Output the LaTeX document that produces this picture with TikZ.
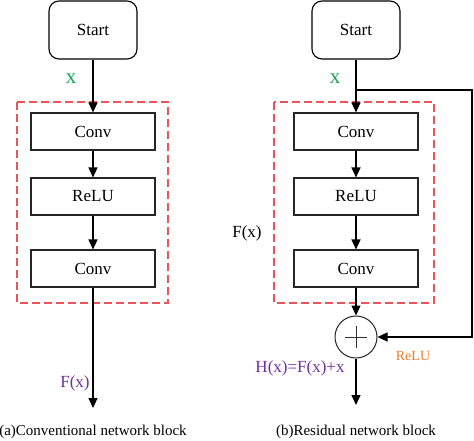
\documentclass[tikz,border=0pt]{standalone}
\usepackage{fontspec}
\setmainfont{Liberation Serif}
\usepackage{tikz}
\usetikzlibrary{arrows.meta, positioning, shapes.geometric}
\definecolor{xgreen}{RGB}{20,165,80}
\definecolor{fpurple}{RGB}{112,48,160}
\definecolor{rorange}{RGB}{237,125,49}
\definecolor{dred}{RGB}{236,84,92}

\begin{document}
\begin{tikzpicture}[
  x=1pt, y=1pt, >={Triangle[length=10pt,width=9pt]},
  font=\fontsize{17}{20}\selectfont,
  st/.style={rectangle, rounded corners=10pt, draw=black, line width=1.1pt,
             minimum width=88pt, minimum height=58pt, inner sep=0pt},
  layer/.style={rectangle, draw=black!85, line width=1.1pt,
                minimum width=124pt, minimum height=37pt, inner sep=0pt},
  sumnode/.style={circle, draw=black!85, line width=1pt, minimum size=42pt,
                  inner sep=0pt},
  plusbar/.style={draw=black!80, line width=0.8pt},
  blk/.style={draw=dred, line width=1.2pt, dash pattern=on 8pt off 4pt},
  ar/.style={->, draw=black, line width=1.2pt},
  caption/.style={font=\fontsize{15}{18}\selectfont}]
  \useasboundingbox (0,0) rectangle (474,440);
  % (a) conventional block
  \node[st] (start1) at (93, 410) {Start};
  \node[layer] (conv1a) at (93, 308.5) {Conv};
  \node[layer] (relu1)  at (93, 243.5) {ReLU};
  \node[layer] (conv1b) at (93, 171.5) {Conv};
  \draw[blk] (17,338) rectangle (168,137);
  \coordinate (out1) at (93, 32);
  \draw[ar] (start1) -- (conv1a);
  \draw[ar] (conv1a) -- (relu1);
  \draw[ar] (relu1) -- (conv1b);
  \draw[ar] (conv1b) -- (out1);
  \node[text=xgreen, font=\fontsize{21}{24}\selectfont] (x1) at (71, 361) {x};
  \node[text=fpurple] (f1) at (75, 57) {F(x)};
  \node[caption] (capa) at (93, 8) {(a)Conventional network block};
  % (b) residual block
  \node[st] (start2) at (356, 410) {Start};
  \node[layer] (conv2a) at (356, 308.5) {Conv};
  \node[layer] (relu2)  at (356, 243.5) {ReLU};
  \node[layer] (conv2b) at (356, 171.5) {Conv};
  \draw[blk] (274,338) rectangle (434,137);
  \node[sumnode] (sum) at (356, 103) {};
  \draw[plusbar] ([xshift=-11pt]sum.center) -- ([xshift=11pt]sum.center);
  \draw[plusbar] ([yshift=-11pt]sum.center) -- ([yshift=11pt]sum.center);
  \coordinate (split) at (356, 350);
  \coordinate (corner) at (472, 350);
  \coordinate (out2) at (356, 35);
  \draw[ar] (start2) -- (conv2a);
  \draw[ar] (conv2a) -- (relu2);
  \draw[ar] (relu2) -- (conv2b);
  \draw[ar] (conv2b) -- (sum);
  \draw[ar] (split) -- (corner) |- (sum);
  \draw[ar] (sum) -- (out2);
  \node[text=xgreen, font=\fontsize{21}{24}\selectfont] (x2) at (335, 361) {x};
  \node (f2) at (247, 207) {F(x)};
  \node[text=rorange, font=\fontsize{14}{16}\selectfont] (r2) at (413, 84) {ReLU};
  \node[text=fpurple] (h2) at (300, 72) {H(x)=F(x)+x};
  \node[caption] (capb) at (356, 8) {(b)Residual network block};
\end{tikzpicture}
\end{document}
